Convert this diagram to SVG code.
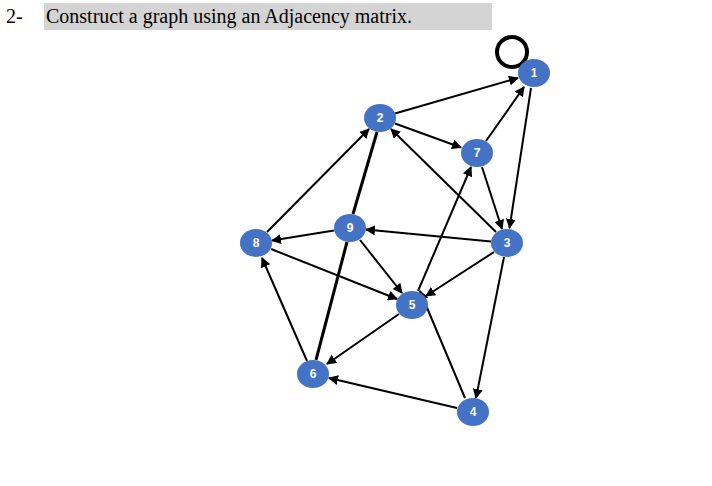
<svg xmlns="http://www.w3.org/2000/svg" width="712" height="486" viewBox="0 0 712 486">
<style>
.n ellipse{fill:#4472c4}
.n text{fill:#fff;font:bold 12px "Liberation Sans",Arial,sans-serif;text-anchor:middle}
.e line{stroke:#000;stroke-width:2;marker-end:url(#a)}
.e line.p{marker-end:none;stroke-width:3}
</style>
<defs><marker id="a" viewBox="0 0 10 10" refX="9" refY="5" markerWidth="5" markerHeight="5" orient="auto"><path d="M0,0L10,5L0,10z"/></marker></defs>
<rect width="712" height="486" fill="#fff"/>
<rect x="44" y="3" width="448" height="27" fill="#d4d4d4"/>
<text x="6" y="23" font-family="Liberation Serif,serif" font-size="20">2-</text>
<text x="46" y="23" font-family="Liberation Serif,serif" font-size="20">Construct a graph using an Adjacency matrix.</text>
<g id="connectors" class="e">
<circle cx="512" cy="52" r="15" fill="none" stroke="#000" stroke-width="4"/>
<line x1="395" y1="113.5" x2="518" y2="78"/>
<line x1="395" y1="123.5" x2="461" y2="147.5"/>
<line x1="486" y1="141" x2="524" y2="87"/>
<line x1="482" y1="167" x2="502" y2="229"/>
<line x1="531" y1="88" x2="509.5" y2="228"/>
<line x1="496" y1="232" x2="391" y2="129"/>
<line x1="491" y1="241.5" x2="366" y2="229.5"/>
<line x1="494" y1="252" x2="426" y2="296"/>
<line x1="504" y1="257" x2="476" y2="398"/>
<line x1="334" y1="230.5" x2="272" y2="240.5"/>
<line x1="360" y1="240" x2="402" y2="293"/>
<line x1="267" y1="232" x2="369" y2="129"/>
<line x1="271" y1="249" x2="397" y2="299"/>
<line x1="418" y1="291" x2="471" y2="167"/>
<line x1="399" y1="314" x2="327" y2="364"/>
<line x1="307" y1="361" x2="262" y2="258"/>
<line x1="465" y1="398" x2="420" y2="291"/>
<line x1="457" y1="408" x2="329" y2="378"/>
<line class="p" x1="377" y1="132" x2="353" y2="214"/>
<line class="p" x1="347" y1="242" x2="316" y2="360"/>
</g>
<g id="n1" class="n"><ellipse cx="534" cy="73" rx="16" ry="14"/><text x="534" y="77">1</text></g>
<g id="n2" class="n"><ellipse cx="380" cy="118" rx="16" ry="14"/><text x="380" y="122">2</text></g>
<g id="n3" class="n"><ellipse cx="507" cy="243" rx="16" ry="14"/><text x="507" y="247">3</text></g>
<g id="n4" class="n"><ellipse cx="473" cy="412" rx="16" ry="14"/><text x="473" y="416">4</text></g>
<g id="n5" class="n"><ellipse cx="412" cy="305" rx="16" ry="14"/><text x="412" y="309">5</text></g>
<g id="n6" class="n"><ellipse cx="313" cy="374" rx="16" ry="14"/><text x="313" y="378">6</text></g>
<g id="n7" class="n"><ellipse cx="477" cy="153" rx="16" ry="14"/><text x="477" y="157">7</text></g>
<g id="n8" class="n"><ellipse cx="256" cy="243" rx="16" ry="14"/><text x="256" y="247">8</text></g>
<g id="n9" class="n"><ellipse cx="350" cy="228" rx="16" ry="14"/><text x="350" y="232">9</text></g>
</svg>
